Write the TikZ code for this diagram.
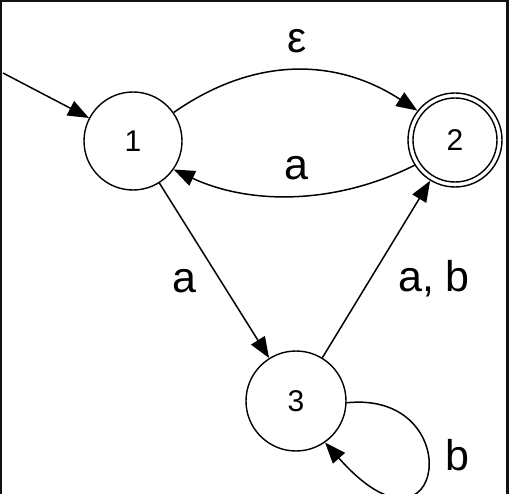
\documentclass[tikz,border=0pt]{standalone}
\usepackage{fontspec}
\setmainfont{Liberation Sans}
\usetikzlibrary{arrows.meta}
\begin{document}
\begin{tikzpicture}[x=1pt,y=-1pt,
  state/.style={circle,draw,line width=1.4pt,inner sep=0pt,font=\fontsize{30}{36}\selectfont},
  edge/.style={line width=1.5pt,-{Triangle[length=21pt,width=16pt]}},
  lbl/.style={anchor=base,inner sep=0pt,font=\fontsize{43}{50}\selectfont}]
\useasboundingbox (0,0) rectangle (509,494);
\fill[white] (0,0) rectangle (509,494);
% frame
\fill[black!93] (0,0) rectangle (509,2.5);
\fill[black!93] (0,0) rectangle (2,494);
\fill[black!93] (506,0) rectangle (509,494);
% states
\node[state,minimum size=98pt] (n1) at (133,141) {1};
\node[state,minimum size=94pt] (n2) at (455,140) {2};
\node[circle,draw,line width=1.4pt,inner sep=0pt,minimum size=84pt] (n2in) at (n2) {};
\node[state,minimum size=100pt] (n3) at (296,401) {3};
% edges
\coordinate (s) at (3,73);
\draw[edge] (s) -- (n1);
\draw[edge] (n1.35) .. controls (253,57) and (335,57) .. (n2.142);
\draw[edge] (n2.212) .. controls (335,205) and (250,205) .. (n1.325);
\draw[edge] (n1) -- (n3);
\draw[edge] (n3) -- (n2);
\draw[edge] (n3.-2) .. controls (470,390) and (445,578) .. (n3.-55);
% labels
\node[lbl] (le) at (297,53) {ε};
\node[lbl] (la1) at (296,180) {a};
\node[lbl] (la2) at (184,293) {a};
\node[lbl] (lab) at (434,292) {a, b};
\node[lbl] (lb) at (457,470) {b};
\end{tikzpicture}
\end{document}
